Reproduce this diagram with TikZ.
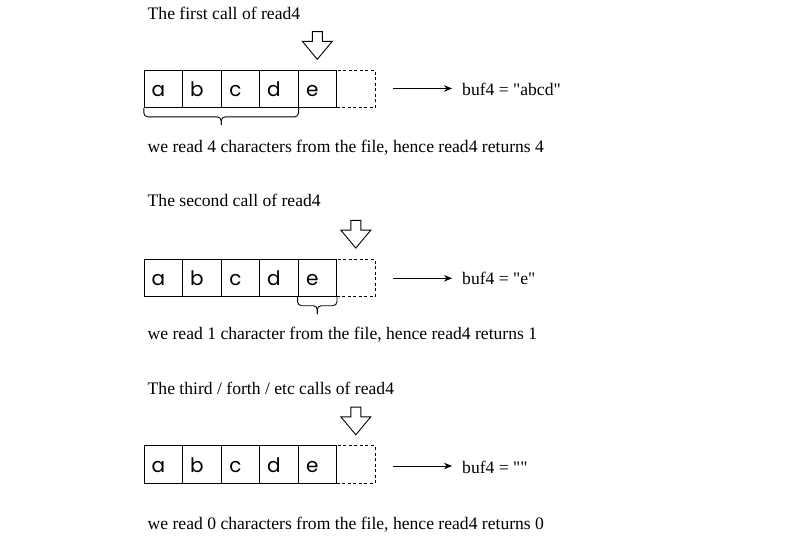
\documentclass[tikz,border=0pt]{standalone}
\usepackage{fontspec}
\setmainfont[Ligatures=TeXOff]{Liberation Serif}
\newfontfamily\cellfont{Poppins}
\usetikzlibrary{arrows.meta,calc}
\begin{document}
\begin{tikzpicture}[x=1pt,y=-1pt,
  cellbox/.style={draw, line width=0.9pt, minimum width=38.45pt, minimum height=37.5pt,
    inner sep=0pt, text height=15pt, text depth=0pt,
    font=\cellfont\fontsize{20pt}{23pt}\selectfont},
  emptybox/.style={draw, line width=0.9pt, dash pattern=on 3pt off 2.5pt,
    minimum width=38.45pt, minimum height=37.5pt, inner sep=0pt},
  hollow/.style={draw, fill=white, line width=0.9pt, line join=miter},
  flow/.style={-{Stealth[length=8pt,width=6.5pt]}, line width=0.9pt},
  caption/.style={anchor=base west, inner sep=0pt, font=\fontsize{17.6pt}{21pt}\selectfont},
  bracestyle/.style={line width=0.9pt, rounded corners=4pt}]
\useasboundingbox (0,0) rectangle (800,536);

% ---------- row 1 ----------
\node[caption] (t1) at (147.5,19.5) {The first call of read4};
\node[emptybox] (d1) at (355.8,89) {};
\node[cellbox] (c1-1) at (163.5,89) {a\kern10pt};
\node[cellbox] (c1-2) at (202.0,89) {b\kern10pt};
\node[cellbox] (c1-3) at (240.4,89) {c\kern10pt};
\node[cellbox] (c1-4) at (278.9,89) {d\kern10pt};
\node[cellbox] (c1-5) at (317.3,89) {e\kern10pt};
\draw[hollow, shift={(c1-5.north)}] (-5,-38.2) -- (5,-38.2) -- (5,-28.5) -- (15,-28.5)
  -- (0,-10.5) -- (-15,-28.5) -- (-5,-28.5) -- cycle;
\path (c1-1.south west) coordinate (b1l) (c1-4.south east) coordinate (b1r);
\draw[bracestyle] (b1l) -- ++(0,8.7) -- ($(b1l)!0.5!(b1r)+(0,8.7)$) -- ++(0,8.3);
\draw[bracestyle] (b1r) -- ++(0,8.7) -- ($(b1l)!0.5!(b1r)+(0,8.7)$) -- ++(0,8.3);
\coordinate (s1) at (393,88.5);
\coordinate (e1) at (452,88.5);
\draw[flow] (s1) -- (e1);
\node[caption] (r1) at (462,95) {buf4 = "abcd"};
\node[caption] (n1) at (147.5,152) {we read 4 characters from the file, hence read4 returns 4};

% ---------- row 2 ----------
\node[caption] (t2) at (147.5,206.7) {The second call of read4};
\node[emptybox] (d2) at (355.8,277.8) {};
\node[cellbox] (c2-1) at (163.5,277.8) {a\kern10pt};
\node[cellbox] (c2-2) at (202.0,277.8) {b\kern10pt};
\node[cellbox] (c2-3) at (240.4,277.8) {c\kern10pt};
\node[cellbox] (c2-4) at (278.9,277.8) {d\kern10pt};
\node[cellbox] (c2-5) at (317.3,277.8) {e\kern10pt};
\draw[hollow, shift={(d2.north)}] (-5,-38.2) -- (5,-38.2) -- (5,-28.5) -- (15,-28.5)
  -- (0,-10.5) -- (-15,-28.5) -- (-5,-28.5) -- cycle;
\path (c2-5.south west) coordinate (b2l) (c2-5.south east) coordinate (b2r);
\draw[bracestyle] (b2l) -- ++(0,8.7) -- ($(b2l)!0.5!(b2r)+(0,8.7)$) -- ++(0,8.3);
\draw[bracestyle] (b2r) -- ++(0,8.7) -- ($(b2l)!0.5!(b2r)+(0,8.7)$) -- ++(0,8.3);
\coordinate (s2) at (393,278.3);
\coordinate (e2) at (452,278.3);
\draw[flow] (s2) -- (e2);
\node[caption] (r2) at (462,284) {buf4 = "e"};
\node[caption] (n2) at (147.5,339.5) {we read 1 character from the file, hence read4 returns 1};

% ---------- row 3 ----------
\node[caption] (t3) at (147.5,394.3) {The third / forth / etc calls of read4};
\node[emptybox] (d3) at (355.8,464.5) {};
\node[cellbox] (c3-1) at (163.5,464.5) {a\kern10pt};
\node[cellbox] (c3-2) at (202.0,464.5) {b\kern10pt};
\node[cellbox] (c3-3) at (240.4,464.5) {c\kern10pt};
\node[cellbox] (c3-4) at (278.9,464.5) {d\kern10pt};
\node[cellbox] (c3-5) at (317.3,464.5) {e\kern10pt};
\draw[hollow, shift={(d3.north)}] (-5,-38.2) -- (5,-38.2) -- (5,-28.5) -- (15,-28.5)
  -- (0,-10.5) -- (-15,-28.5) -- (-5,-28.5) -- cycle;
\coordinate (s3) at (393,466);
\coordinate (e3) at (452,466);
\draw[flow] (s3) -- (e3);
\node[caption] (r3) at (462,473) {buf4 = ""};
\node[caption] (n3) at (147.5,529) {we read 0 characters from the file, hence read4 returns 0};
\end{tikzpicture}
\end{document}
